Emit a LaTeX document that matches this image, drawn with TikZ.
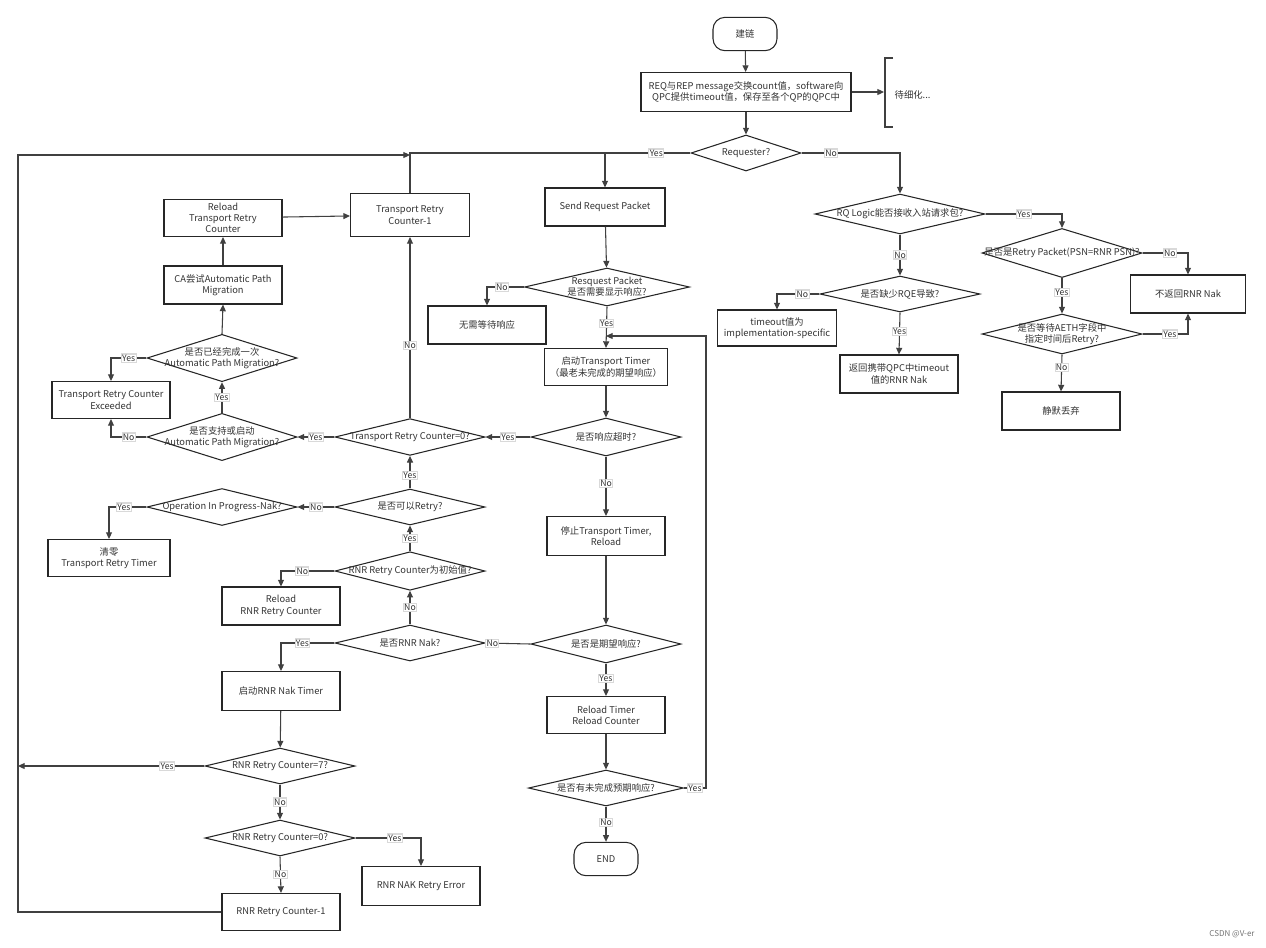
\documentclass[tikz,border=0pt]{standalone}
\usepackage{fontspec}
\setmainfont{Noto Sans CJK SC}
\usetikzlibrary{shapes.geometric,arrows.meta}
\begin{document}
\begin{tikzpicture}[x=0.75pt,y=-0.75pt,
  every node/.style={font=\fontsize{7}{8.5}\selectfont, text=black!80},
  box/.style 2 args={draw=black!85,line width=0.8pt,rectangle,align=center,minimum width=#1*0.75pt,minimum height=#2*0.75pt,inner sep=1pt},
  dec/.style 2 args={draw=black!85,line width=0.8pt,diamond,aspect=3,inner ysep=0pt,inner xsep=-14pt,align=center,minimum width=#1*0.75pt,minimum height=#2*0.75pt},
  term/.style={draw=black!85,line width=0.8pt,rounded corners=9pt,minimum width=48pt,minimum height=25pt},
  arr/.style={draw=black!75,line width=0.8pt,-{Triangle[length=5pt,width=4.5pt]}},
  ln/.style={draw=black!75,line width=0.8pt},
  lab/.style={fill=white,draw=black!15,inner sep=0.6pt,font=\fontsize{6.5}{7}\selectfont}]
\useasboundingbox (0,0) rectangle (1266,947);
% top
\node[term] (start) at (745,34) {建链};
\node[box={210}{39}] (init) at (746,92) {REQ与REP message交换count值，software向\\QPC提供timeout值，保存至各个QP的QPC中};
\coordinate (br) at (884,92);
\draw[ln] (893,58) -- (885,58) -- (885,127) -- (893,127);
\node[anchor=west] (tbd) at (890,95) {待细化...};
\node[dec={110}{36}] (req) at (746,153) {Requester?};
\draw[arr] (start) -- (init);
\draw[arr] (init) -- (br);
\draw[arr] (init) -- (req);
% right
\node[dec={170}{30}] (rq) at (900,214) {RQ Logic能否接收入站请求包?};
\node[dec={160}{36}] (rqe) at (900,294) {是否缺少RQE导致?};
\node[box={119}{36}] (tmo) at (777,328) {timeout值为\\implementation-specific};
\node[box={118}{38}] (rnrnak) at (899,374) {返回携带QPC中timeout\\值的RNR Nak};
\node[dec={160}{36}] (rp) at (1062,253) {是否是Retry Packet(PSN=RNR PSN)?};
\node[box={115}{38}] (nornr) at (1188,294) {不返回RNR Nak};
\node[dec={160}{40}] (aeth) at (1062,334) {是否等待AETH字段中\\指定时间后Retry?};
\node[box={118}{38}] (drop) at (1061,411) {静默丢弃};
\draw[arr] (req.east) -| node[lab,pos=0.15]{No} (rq.north);
\draw[arr] (rq.east) -| node[lab,pos=0.25]{Yes} (rp.north);
\draw[arr] (rq.south) -- node[lab]{No} (rqe.north);
\draw[arr] (rqe.west) -| node[lab,pos=0.2]{No} (tmo.north);
\draw[arr] (rqe.south) -- node[lab,pos=0.45]{Yes} (rnrnak.north);
\draw[arr] (rp.east) -| node[lab,pos=0.3]{No} (nornr.north);
\draw[arr] (rp.south) -- node[lab,pos=0.4]{Yes} (aeth.north);
\draw[arr] (aeth.east) -| node[lab,pos=0.3]{Yes} (nornr.south);
\draw[arr] (aeth.south) -- node[lab,pos=0.35]{No} (drop.north);
% middle column
\node[box={120}{38}] (send) at (605,207) {Send Request Packet};
\node[dec={165}{38}] (need) at (607,287) {Resquest Packet\\是否需要显示响应?};
\node[box={118}{38}] (noneed) at (487,325) {无需等待响应};
\node[box={123}{37}] (stt) at (606,367) {启动Transport Timer\\（最老未完成的期望响应）};
\node[dec={150}{38}] (tout) at (606,437) {是否响应超时?};
\node[box={118}{39}] (stop) at (606,536) {停止Transport Timer,\\Reload};
\node[dec={150}{38}] (exp) at (606,644) {是否是期望响应?};
\node[box={118}{37}] (rld) at (606,715) {Reload Timer\\Reload Counter};
\node[dec={155}{36}] (pend) at (606,788) {是否有未完成预期响应?};
\node[term] (end) at (606,859) {END};
\coordinate (loopin) at (606,336);
\draw[arr] (req.west) -| node[lab,pos=0.2]{Yes} (send.north);
\draw[arr] (send) -- (need);
\draw[arr] (need.west) -| node[lab,pos=0.3]{No} (noneed.north);
\draw[arr] (need.south) -- node[lab,pos=0.4]{Yes} (stt.north);
\draw[arr] (stt) -- (tout);
\draw[arr] (tout.south) -- node[lab,pos=0.45]{No} (stop.north);
\draw[arr] (stop) -- (exp);
\draw[arr] (exp.south) -- node[lab,pos=0.45]{Yes} (rld.north);
\draw[arr] (rld) -- (pend);
\draw[arr] (pend.south) -- node[lab,pos=0.45]{No} (end.north);
\draw[arr] (pend.east) -- node[lab,pos=0.5]{Yes} (706,788) -- (706,336) -- (loopin);
% transport retry
\node[dec={150}{36}] (trc0) at (410,437) {Transport Retry Counter=0?};
\node[box={119}{43}] (trc1) at (410,215) {Transport Retry\\Counter-1};
\node[box={118}{37}] (rtrc) at (223,218) {Reload\\Transport Retry\\Counter};
\node[box={118}{38}] (ca) at (223,285) {CA尝试Automatic Path\\Migration};
\node[dec={150}{44}] (apmd) at (222,358) {是否已经完成一次\\Automatic Path Migration?};
\node[dec={150}{44}] (apms) at (222,437) {是否支持或启动\\Automatic Path Migration?};
\node[box={118}{37}] (exc) at (111,400) {Transport Retry Counter\\Exceeded};
\draw[arr] (tout.west) -- node[lab]{Yes} (trc0.east);
\draw[arr] (trc0.north) -- node[lab,pos=0.4]{No} (trc1.south);
\draw[ln] (trc1.north) -- (410,153) -- (605,153);
\draw[arr] (trc0.west) -- node[lab]{Yes} (apms.east);
\draw[arr] (apms.north) -- node[lab]{Yes} (apmd.south);
\draw[arr] (apms.west) -| node[lab,pos=0.25]{No} (exc.south);
\draw[arr] (apmd.west) -| node[lab,pos=0.25]{Yes} (exc.north);
\draw[arr] (apmd.north) -- (ca.south);
\draw[arr] (ca) -- (rtrc);
\draw[arr] (rtrc) -- (trc1);
% retry checks
\node[dec={150}{36}] (canr) at (410,507) {是否可以Retry?};
\node[dec={150}{36}] (opn) at (222,507) {Operation In Progress-Nak?};
\node[box={122}{37}] (clr) at (109,558) {清零\\Transport Retry Timer};
\node[dec={150}{36}] (init0) at (410,571) {RNR Retry Counter为初始值?};
\node[box={118}{38}] (rrnr) at (281,606) {Reload\\RNR Retry Counter};
\node[dec={150}{36}] (isrnr) at (410,643) {是否RNR Nak?};
\node[box={118}{39}] (srnr) at (281,691) {启动RNR Nak Timer};
\node[dec={150}{36}] (r7) at (280,766) {RNR Retry Counter=7?};
\node[dec={150}{36}] (r0) at (280,838) {RNR Retry Counter=0?};
\node[box={118}{39}] (err) at (421,886) {RNR NAK Retry Error};
\node[box={118}{37}] (rm1) at (281,912) {RNR Retry Counter-1};
\coordinate (lft) at (18,766);
\coordinate (topin) at (410,155);
\draw[arr] (canr.north) -- node[lab,pos=0.4]{Yes} (trc0.south);
\draw[arr] (canr.west) -- node[lab]{No} (opn.east);
\draw[arr] (opn.west) -| node[lab,pos=0.3]{Yes} (clr.north);
\draw[arr] (init0.north) -- node[lab]{Yes} (canr.south);
\draw[arr] (init0.west) -| node[lab,pos=0.3]{No} (rrnr.north);
\draw[arr] (exp.west) -- node[lab,pos=0.85]{No} (isrnr.east);
\draw[arr] (isrnr.north) -- node[lab]{No} (init0.south);
\draw[arr] (isrnr.west) -| node[lab,pos=0.3]{Yes} (srnr.north);
\draw[arr] (srnr) -- (r7);
\draw[arr] (r7.west) -- node[lab,pos=0.2]{Yes} (lft);
\draw[arr] (r7.south) -- node[lab]{No} (r0.north);
\draw[arr] (r0.east) -| node[lab,pos=0.3]{Yes} (err.north);
\draw[arr] (r0.south) -- node[lab]{No} (rm1.north);
\draw[arr] (rm1.west) -- (18,912) -- (18,155) -- (topin);
\node[text=black!55,font=\fontsize{6}{7}\selectfont] (csdn) at (1232,934) {CSDN @V-er};
\end{tikzpicture}
\end{document}
